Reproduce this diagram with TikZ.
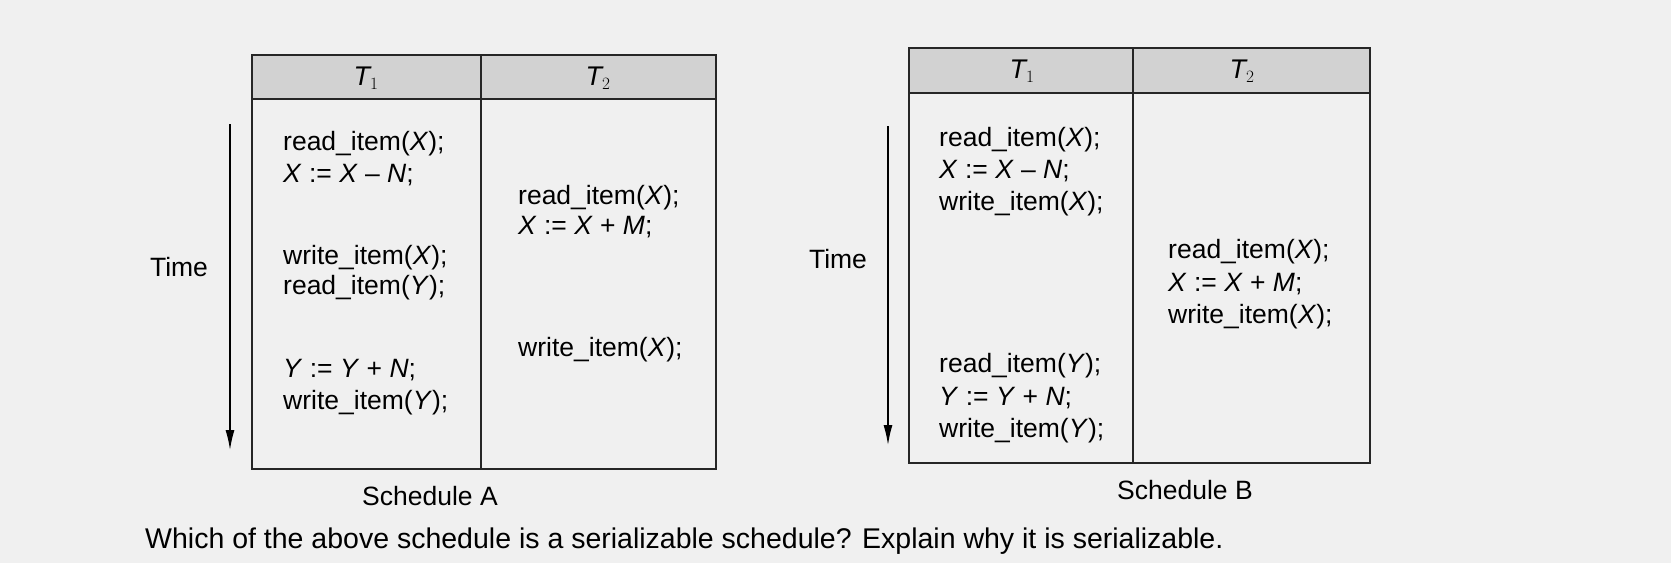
\documentclass[tikz,border=0pt]{standalone}
\usepackage{fontspec}
\setmainfont{Liberation Sans}
\usetikzlibrary{arrows.meta}
\begin{document}
\begin{tikzpicture}[x=1pt,y=-1pt,
  txt/.style={anchor=west,inner sep=0pt,font=\fontsize{26.5}{30}\selectfont},
  hd/.style={inner sep=0pt,font=\fontsize{27}{30}\selectfont\itshape},
  tl/.style={line width=1.8pt,draw=black!85},
  arr/.style={line width=1.4pt,-{Latex[length=20pt,width=9pt]}}]
\fill[gray!12] (0,0) rectangle (1671,563);
\useasboundingbox (0,0) rectangle (1671,563);
% Table A
\fill[gray!35] (252,55) rectangle (716,99);
\draw[tl] (252,55) rectangle (716,469);
\draw[tl] (252,99) -- (716,99);
\draw[tl] (481,55) -- (481,469);
\node[hd] (a1) at (366,78) {T$_1$};
\node[hd] (a2) at (598,78) {T$_2$};
\node[txt] (at1) at (283,144) {read\_item(\textit{X});};
\node[txt] (at2) at (283,175) {\textit{X} := \textit{X} -- \textit{N};};
\node[txt] (at3) at (283,258) {write\_item(\textit{X});};
\node[txt] (at4) at (283,288) {read\_item(\textit{Y});};
\node[txt] (at5) at (283,370) {\textit{Y} := \textit{Y} + \textit{N};};
\node[txt] (at6) at (283,403) {write\_item(\textit{Y});};
\node[txt] (au1) at (518,198) {read\_item(\textit{X});};
\node[txt] (au2) at (518,227) {\textit{X} := \textit{X} + \textit{M};};
\node[txt] (au3) at (518,350) {write\_item(\textit{X});};
\node[txt,anchor=center] (timeA) at (179,267) {Time};
\coordinate (sa) at (230,124); \coordinate (ea) at (230,450);
\draw[arr] (sa) -- (ea);
\node[txt,anchor=center] (schA) at (430,496) {Schedule A};
% Table B
\fill[gray!35] (909,48) rectangle (1370,93);
\draw[tl] (909,48) rectangle (1370,463);
\draw[tl] (909,93) -- (1370,93);
\draw[tl] (1133,48) -- (1133,463);
\node[hd] (b1) at (1022,71) {T$_1$};
\node[hd] (b2) at (1242,71) {T$_2$};
\node[txt] (bt1) at (939,140) {read\_item(\textit{X});};
\node[txt] (bt2) at (939,171) {\textit{X} := \textit{X} -- \textit{N};};
\node[txt] (bt3) at (939,204) {write\_item(\textit{X});};
\node[txt] (bt4) at (939,366) {read\_item(\textit{Y});};
\node[txt] (bt5) at (939,398) {\textit{Y} := \textit{Y} + \textit{N};};
\node[txt] (bt6) at (939,431) {write\_item(\textit{Y});};
\node[txt] (bu1) at (1168,252) {read\_item(\textit{X});};
\node[txt] (bu2) at (1168,284) {\textit{X} := \textit{X} + \textit{M};};
\node[txt] (bu3) at (1168,317) {write\_item(\textit{X});};
\node[txt,anchor=center] (timeB) at (838,259) {Time};
\coordinate (sb) at (888,126); \coordinate (eb) at (888,445);
\draw[arr] (sb) -- (eb);
\node[txt,anchor=center] (schB) at (1185,490) {Schedule B};
\node[txt,font=\fontsize{28.5}{32}\selectfont] (q) at (145,541) {Which of the above schedule is a serializable schedule? Explain why it is serializable.};
\end{tikzpicture}
\end{document}
